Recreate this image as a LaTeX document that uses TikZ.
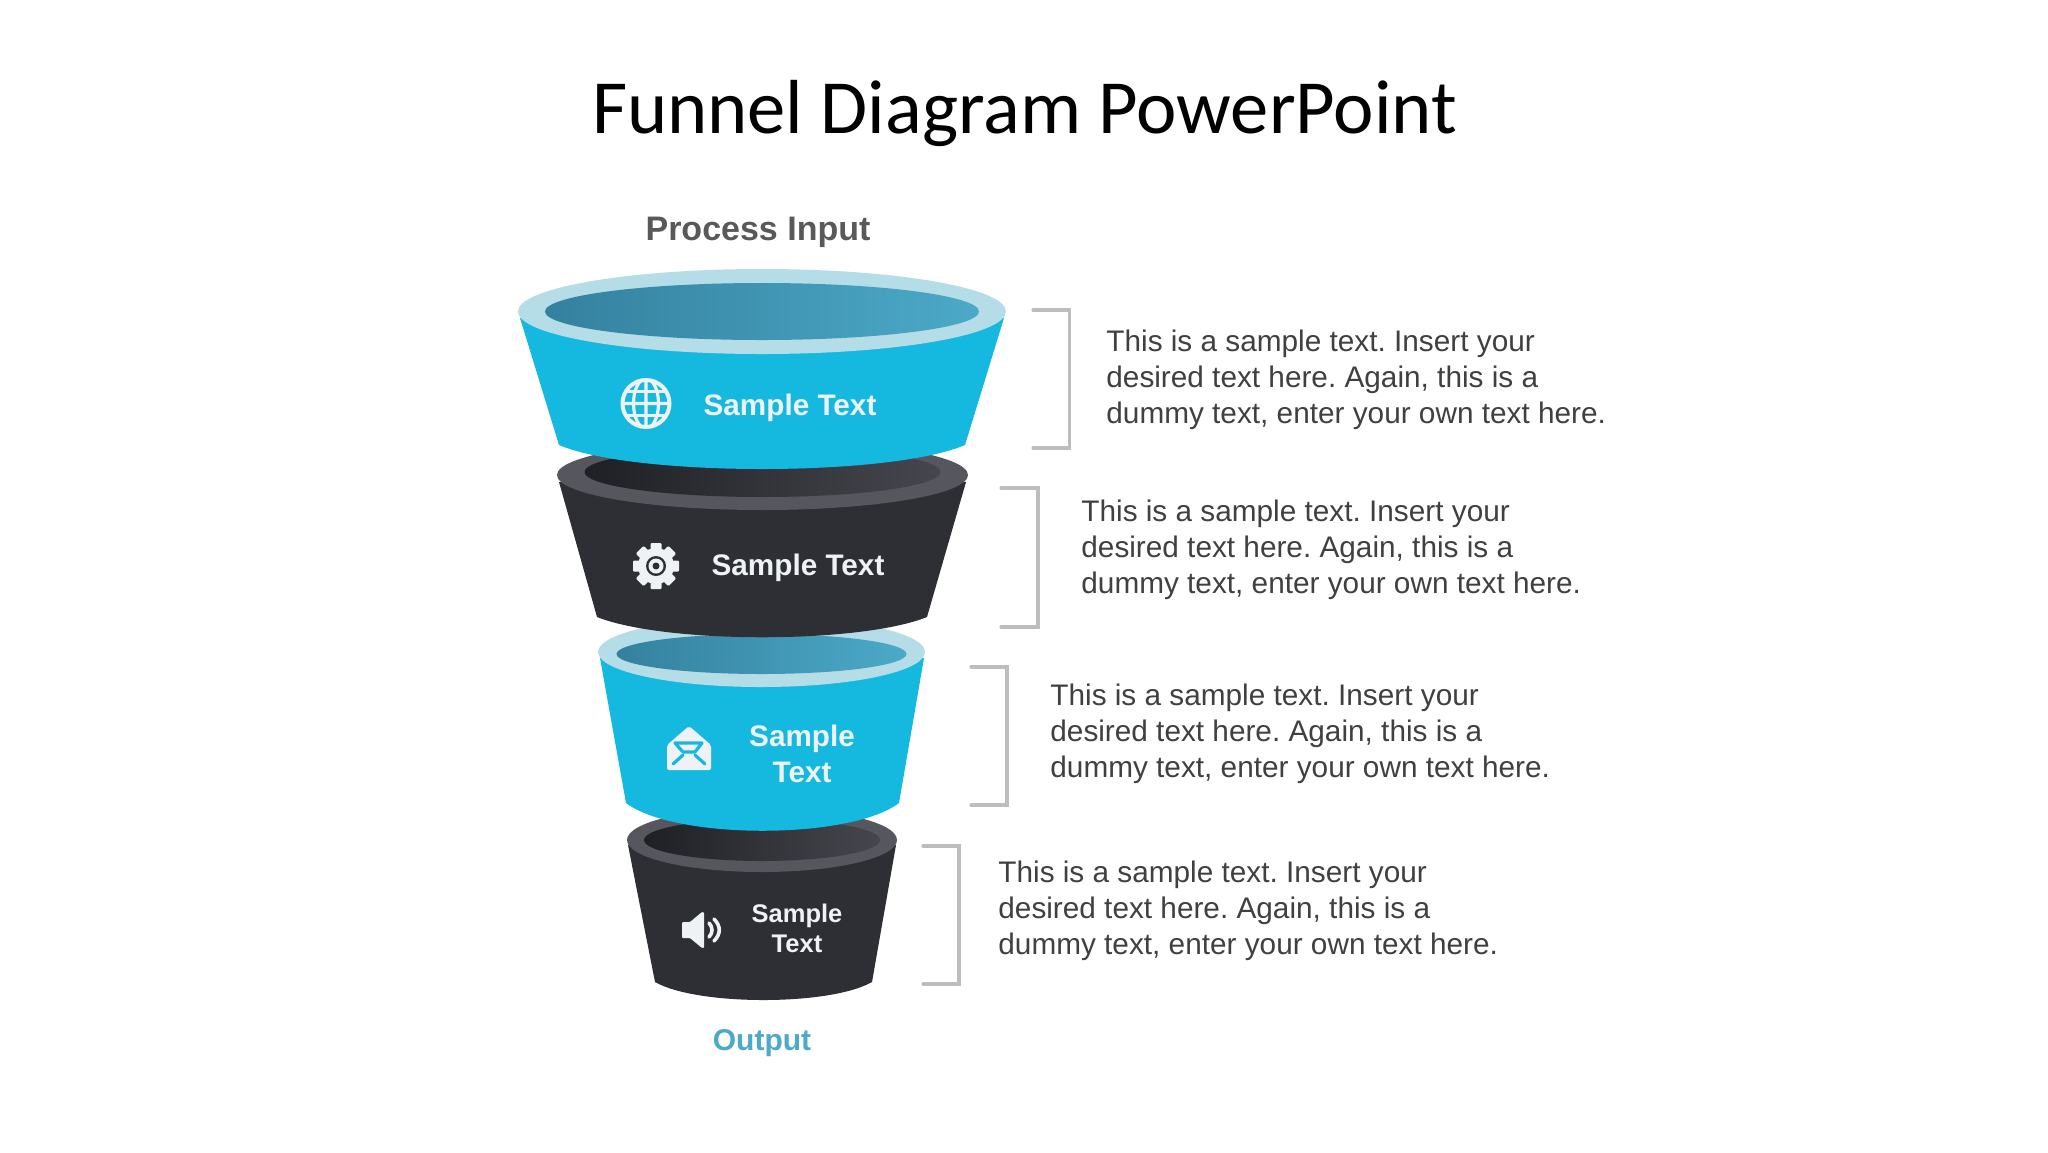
\documentclass[tikz,border=0pt]{standalone}
\usepackage{fontspec}
\setmainfont{Liberation Sans}
\newfontfamily\titlefont{Carlito}
\definecolor{cyanbody}{HTML}{15B9DF}
\definecolor{cyanrim}{HTML}{B5DDE8}
\definecolor{cyanin}{HTML}{34819E}
\definecolor{cyanout}{HTML}{4CA9C8}
\definecolor{darkbody}{HTML}{2E2F35}
\definecolor{darkrim}{HTML}{55565E}
\definecolor{darkin}{HTML}{1F2025}
\definecolor{darkout}{HTML}{46474E}
\definecolor{brack}{HTML}{BDBDBD}
\definecolor{icon}{HTML}{EFF2F5}
\tikzset{
  x=0.5pt,y=-0.5pt,
  bracketline/.style={draw=brack,line width=1.6pt,line cap=round,line join=miter},
  bodytext/.style={anchor=west,align=left,inner sep=0pt,text=black!75,font=\frenchspacing\fontsize{14.88}{18}\selectfont},
  label14/.style={align=center,inner sep=0pt,text=icon,font=\bfseries\fontsize{14.85}{18}\selectfont},
  label12/.style={align=center,inner sep=0pt,text=icon,font=\bfseries\fontsize{12.75}{15}\selectfont},
}
% #1 rim, #2 grad left, #3 grad right, #4 cx, #5 rim cy, #6 rim rx, #7 rim ry, #8 inner cy
\newcommand{\funnelrim}[8]{%
  \fill[#1] (#4,#5) ellipse [x radius=#6,y radius=#7];
  \shade[left color=#2,right color=#3] (#4,#8) ellipse [x radius=\innerrx,y radius=\innerry];
}
\begin{document}
\begin{tikzpicture}
\useasboundingbox (0,0) rectangle (2048,1152);
\fill[white] (0,0) rectangle (2048,1152);

\node[font=\titlefont\fontsize{38.3}{42}\selectfont,text=black,inner sep=0pt] (title) at (1024.5,113) {Funnel Diagram PowerPoint};
\node[font=\bfseries\fontsize{17}{20}\selectfont,text=black!65,inner sep=0pt] (input) at (758,232.5) {Process Input};
\node[font=\bfseries\fontsize{15}{18}\selectfont,text=cyanout,inner sep=0pt] (output) at (762,1043.5) {Output};

% funnel 4
\fill[darkbody] (628,845) -- (896,845)
  -- (872,982) .. controls (830,1006) and (697,1006) .. (655,982) -- cycle;
\def\innerrx{118}\def\innerry{21}
\funnelrim{darkrim}{darkin}{darkout}{762}{840}{135}{32}{840}
% funnel 3
\fill[cyanbody] (600,658) -- (924,658)
  -- (899,803) .. controls (850,840) and (675,840) .. (626,803) -- cycle;
\def\innerrx{145}\def\innerry{20}
\funnelrim{cyanrim}{cyanin}{cyanout}{761.5}{652}{163.5}{35}{654}
% funnel 2
\fill[darkbody] (559,482) -- (966,482)
  -- (927,617) .. controls (860,644) and (665,644) .. (597,617) -- cycle;
\def\innerrx{178}\def\innerry{25}
\funnelrim{darkrim}{darkin}{darkout}{762.5}{475}{205.5}{35}{472}
% funnel 1
\fill[cyanbody] (520,318) -- (1004,318)
  -- (965,445) .. controls (890,477) and (634,477) .. (559,445) -- cycle;
\def\innerrx{217}\def\innerry{28.5}
\funnelrim{cyanrim}{cyanin}{cyanout}{762}{311.5}{244}{42.5}{311.5}

% labels
\node[label14] (t1) at (790,408) {Sample Text};
\node[label14] (t2) at (798,568) {Sample Text};
\node[label14] (t3) at (802,754) {Sample\\Text};
\node[label12] (t4) at (797,928) {Sample\\Text};

% globe
\begin{scope}[shift={(646,403.5)}]
  \draw[icon,line width=2pt] (0,0) circle [radius=23.5];
  \clip (0,0) circle [radius=24];
  \draw[icon,line width=1.6pt] (0,-25) -- (0,25) (0,0) ellipse [x radius=12.5,y radius=25]
    (-25,0) -- (25,0);
  \draw[icon,line width=1.6pt] (-25,-12) -- (25,-12) (-25,12) -- (25,12);
\end{scope}
% gear
\begin{scope}[shift={(656,566)}]
  \fill[icon] (0,0) circle [radius=18];
  \foreach \a in {0,45,...,315}
    \fill[icon,rotate=\a,rounded corners=0.5pt] (-5.5,-23) rectangle (5.5,-10);
  \fill[darkbody] (0,0) circle [radius=10];
  \fill[icon] (0,0) circle [radius=7.5];
  \fill[darkbody] (0,0) circle [radius=3.5];
\end{scope}
% envelope
\fill[icon,rounded corners=1pt] (667,745) -- (689,726) -- (711,745) -- (711,770) -- (667,770) -- cycle;
\draw[cyanbody,line width=1.6pt,line join=round,fill=icon] (675,743) -- (702,743) -- (695,752) -- (683,752) -- cycle;
\draw[cyanbody,line width=1.6pt,line cap=round] (673,764) -- (683,755) (705,764) -- (695,755);
% speaker
\fill[icon,rounded corners=0.5pt] (682,922) -- (690,922) -- (702,912) -- (704,912) -- (704,948) -- (702,948) -- (690,938) -- (682,938) -- cycle;
\draw[icon,line width=1.8pt,line cap=round] (709,923) .. controls (713,927) and (713,933) .. (709,937)
  (714,919) .. controls (721,926) and (721,934) .. (714,941);

% brackets
\draw[bracketline] (1033,310) -- (1069.5,310) -- (1069.5,448) -- (1033,448);
\draw[bracketline] (1001,488) -- (1038,488) -- (1038,627) -- (1001,627);
\draw[bracketline] (971,667) -- (1007,667) -- (1007,805) -- (971,805);
\draw[bracketline] (923,846) -- (959,846) -- (959,984) -- (923,984);

% texts
\node[bodytext] (d1) at (1106,380) {This is a sample text. Insert your\\desired text here. Again, this is a\\dummy text, enter your own text here.};
\node[bodytext] (d2) at (1081,550) {This is a sample text. Insert your\\desired text here. Again, this is a\\dummy text, enter your own text here.};
\node[bodytext] (d3) at (1050,734) {This is a sample text. Insert your\\desired text here. Again, this is a\\dummy text, enter your own text here.};
\node[bodytext] (d4) at (998,911) {This is a sample text. Insert your\\desired text here. Again, this is a\\dummy text, enter your own text here.};
\end{tikzpicture}
\end{document}
